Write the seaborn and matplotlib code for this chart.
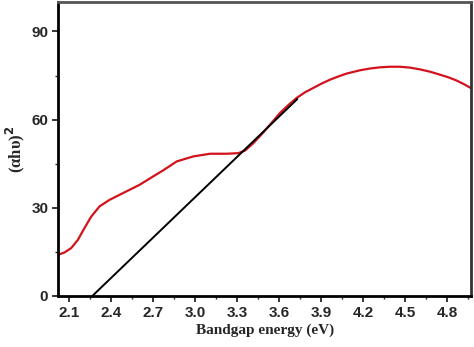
import numpy as np
import pandas as pd
import matplotlib
matplotlib.use("Agg")
import matplotlib.pyplot as plt
from matplotlib.ticker import MultipleLocator
import seaborn as sns

# Tauc plot: (alpha h nu)^2 versus photon energy
energy = [2.019, 2.066, 2.114, 2.162, 2.209, 2.257, 2.317, 2.388, 2.484,
          2.602, 2.721, 2.77, 2.869, 2.988, 3.107, 3.226, 3.309, 3.357,
          3.416, 3.488, 3.548, 3.607, 3.667, 3.726, 3.785, 3.845, 3.905,
          3.964, 4.024, 4.084, 4.179, 4.25, 4.321, 4.393, 4.464, 4.536,
          4.607, 4.68, 4.75, 4.81, 4.869, 4.92, 4.969]
ahv2 = [14.0, 14.8, 16.3, 19.1, 23.1, 27.0, 30.5, 32.7, 35.0,
        37.8, 41.3, 42.7, 45.8, 47.5, 48.4, 48.4, 48.6, 49.5,
        52.0, 55.7, 59.0, 62.3, 65.0, 67.4, 69.3, 70.8, 72.3,
        73.6, 74.7, 75.7, 76.8, 77.4, 77.8, 78.0, 78.0, 77.7,
        77.1, 76.3, 75.3, 74.4, 73.3, 72.1, 70.8]

# Linear extrapolation of the absorption edge
fit_energy = [2.265, 3.73]
fit_ahv2 = [0.0, 67.0]

x_ticks = [2.1, 2.4, 2.7, 3.0, 3.3, 3.6, 3.9, 4.2, 4.5, 4.8]
y_ticks = [0, 30, 60, 90]

sns.set_style("ticks")
plt.rcParams["font.family"] = ["Liberation Sans", "DejaVu Sans"]

fig = plt.figure(figsize=(4.74, 3.47), dpi=100)
ax = fig.add_axes([0.1224, 0.147, 0.8723, 0.847])

curve = pd.DataFrame({"energy": energy, "ahv2": ahv2})
fit = pd.DataFrame({"energy": fit_energy, "ahv2": fit_ahv2})

sns.lineplot(data=curve, x="energy", y="ahv2", ax=ax, color="#d3121c",
             linewidth=1.6, sort=False)
sns.lineplot(data=fit, x="energy", y="ahv2", ax=ax, color="black",
             linewidth=1.4, sort=False)

ax.set_xlim(2.02, 4.975)
ax.set_ylim(0, 100)
ax.set_xticks(x_ticks)
ax.set_xticklabels([f"{t:.1f}" for t in x_ticks])
ax.set_yticks(y_ticks)
ax.xaxis.set_minor_locator(MultipleLocator(0.15))
ax.yaxis.set_minor_locator(MultipleLocator(15))

for lab in ax.get_xticklabels() + ax.get_yticklabels():
    lab.set_fontweight("bold")
    lab.set_fontsize(11)

ax.tick_params(which="major", direction="out", length=4, width=1.3, pad=3)
ax.tick_params(which="minor", direction="out", length=2.5, width=1.0)

for side in ["left", "bottom", "right", "top"]:
    ax.spines[side].set_visible(True)
    ax.spines[side].set_linewidth(2.0)
    ax.spines[side].set_color("black")
ax.spines["top"].set_color("#555555")
ax.spines["right"].set_color("#333333")

ax.set_xlabel("Bandgap energy (eV)", fontfamily="Liberation Serif",
              fontweight="bold", fontsize=11, labelpad=3)
ax.set_ylabel("(αhυ)$^{\\mathbf{2}}$",
              fontfamily="Liberation Serif", fontweight="bold", fontsize=12,
              labelpad=3)

fig.savefig("out.png", dpi=100)
